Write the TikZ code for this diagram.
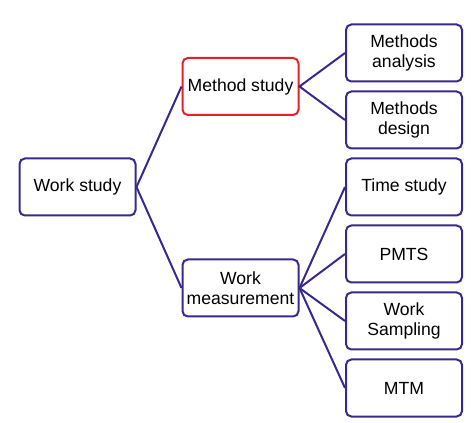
\documentclass[tikz,border=0pt]{standalone}
\usepackage{fontspec}
\setmainfont{Liberation Sans}
\usetikzlibrary{positioning}

\definecolor{boxblue}{RGB}{58,40,142}
\definecolor{boxred}{RGB}{230,32,40}

\newlength{\unitpx}
\setlength{\unitpx}{0.75pt}

\tikzset{
    item/.style={draw=boxblue, line width=1.5pt, rounded corners=4pt, fill=white,
        minimum width=116\unitpx, minimum height=57\unitpx, align=center,
        font=\fontsize{13.2}{14.6}\selectfont, inner sep=1pt},
    link/.style={draw=boxblue, line width=1.5pt}
}

\begin{document}
\begin{tikzpicture}[x=0.75pt, y=-0.75pt]
    \useasboundingbox (0,0) rectangle (474,423);

    \node[item] (work) at (77.5,187) {Work study};

    \node[item, draw=boxred] (method) at (240.5,86.5) {Method study};
    \node[item] (measure) at (240.5,288) {Work\\measurement};

    \node[item] (analysis) at (404,53) {Methods\\analysis};
    \node[item] (design)   at (404,120) {Methods\\design};
    \node[item] (time)     at (404,187) {Time study};
    \node[item] (pmts)     at (404,254) {PMTS};
    \node[item] (sampling) at (404,321) {Work\\Sampling};
    \node[item] (mtm)      at (404,388) {MTM};

    \draw[link] (method.west) -- (work.east) -- (measure.west);
    \draw[link] (analysis.west) -- (method.east) -- (design.west);
    \foreach \leaf in {time, pmts, sampling, mtm}
        \draw[link] (measure.east) -- (\leaf.west);
\end{tikzpicture}
\end{document}
